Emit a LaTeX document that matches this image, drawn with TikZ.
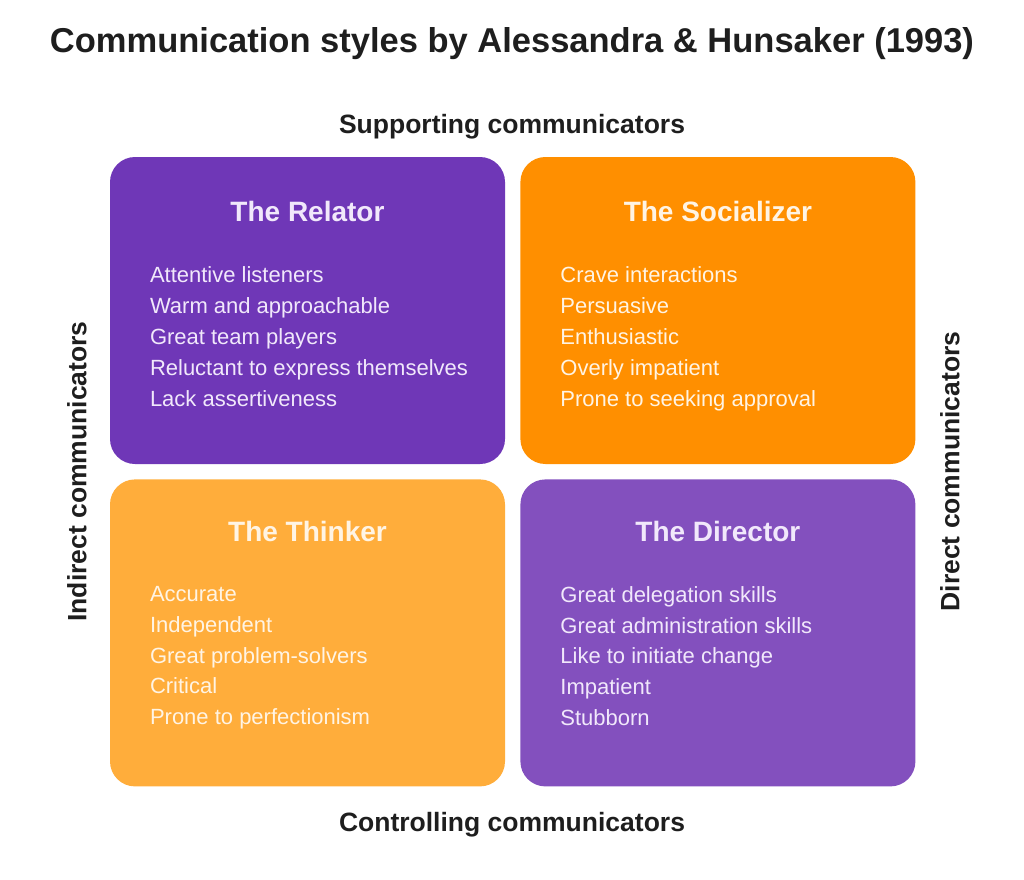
\documentclass[tikz,border=0pt]{standalone}
\usepackage{fontspec}
\setmainfont{Liberation Sans}
\usepackage{tikz}
\usetikzlibrary{positioning,calc}
\definecolor{relatorc}{HTML}{6F37B7}
\definecolor{socialc}{HTML}{FF8F00}
\definecolor{thinkerc}{HTML}{FFAD3B}
\definecolor{directorc}{HTML}{8350BE}
\definecolor{inkc}{HTML}{1E1E1E}
\definecolor{lavtext}{HTML}{F1E8FB}
\definecolor{creamtext}{HTML}{FFF4E4}
\tikzset{
  quad/.style={rounded corners=25pt,minimum width=395pt,minimum height=307pt,inner sep=0pt},
  head/.style={font=\fontsize{28}{32}\selectfont\bfseries},
  items/.style={font=\fontsize{22}{30.8}\selectfont,align=left,anchor=north west,inner sep=0pt},
  axis/.style={font=\fontsize{26.5}{30}\selectfont\bfseries,text=inkc}
}

\begin{document}
\begin{tikzpicture}[x=1pt,y=-1pt]
\useasboundingbox (0,0) rectangle (1024,879);
\node[font=\fontsize{34.5}{40}\selectfont\bfseries,text=inkc] (title) at (512,44) {Communication styles by Alessandra \& Hunsaker (1993)};
% the four quadrants
\node[quad,fill=relatorc] (relator) at (307.5,310.5) {};
\node[quad,fill=socialc,right=15pt of relator] (socializer) {};
\node[quad,fill=thinkerc,below=15pt of relator] (thinker) {};
\node[quad,fill=directorc,right=15pt of thinker] (director) {};
% headings
\node[head,text=lavtext] at ([yshift=-55pt]relator.north) {The Relator};
\node[head,text=creamtext] at ([yshift=-55pt]socializer.north) {The Socializer};
\node[head,text=creamtext] at ([yshift=-52pt]thinker.north) {The Thinker};
\node[head,text=lavtext] at ([yshift=-52pt]director.north) {The Director};
% traits
\node[items,text=lavtext] (relator-list) at ([xshift=40pt,yshift=-110pt]relator.north west)
  {Attentive listeners\\Warm and approachable\\Great team players\\Reluctant to express themselves\\Lack assertiveness};
\node[items,text=creamtext] (social-list) at ([xshift=40pt,yshift=-110pt]socializer.north west)
  {Crave interactions\\Persuasive\\Enthusiastic\\Overly impatient\\Prone to seeking approval};
\node[items,text=creamtext] (thinker-list) at ([xshift=40pt,yshift=-107pt]thinker.north west)
  {Accurate\\Independent\\Great problem-solvers\\Critical\\Prone to perfectionism};
\node[items,text=lavtext] (director-list) at ([xshift=40pt,yshift=-107pt]director.north west)
  {Great delegation skills\\Great administration skills\\Like to initiate change\\Impatient\\Stubborn};
% axes
\node[axis] (supporting) at (512,127) {Supporting communicators};
\node[axis] (controlling) at (512,825) {Controlling communicators};
\node[axis,rotate=90] (indirect) at (77,471.5) {Indirect communicators};
\node[axis,rotate=90] (direct) at (950,471.5) {Direct communicators};
\end{tikzpicture}
\end{document}
